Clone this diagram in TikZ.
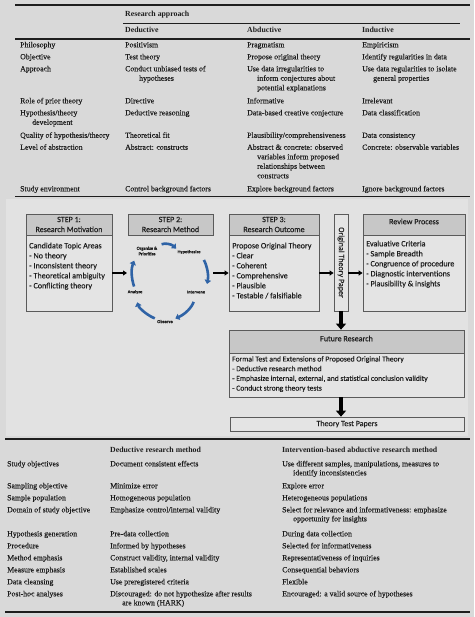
\documentclass[tikz,border=0pt]{standalone}
\usepackage{fontspec}
\setmainfont{Liberation Serif}
\newfontfamily\tabfont[FakeBold=0.3]{Liberation Serif}
\newfontfamily\carl[FakeBold=0.2]{Carlito}
\usetikzlibrary{arrows.meta}
\definecolor{bgc}{HTML}{D9D9D9}
\definecolor{panelc}{HTML}{E2E2E2}
\definecolor{hdrc}{HTML}{C7C7C7}
\definecolor{bodyc}{HTML}{E4E4E4}
\definecolor{boxc}{HTML}{5A5A5A}
\definecolor{txt}{HTML}{1E1E1E}
\definecolor{cycblue}{HTML}{2F63A6}
\newcommand\tabcell[5][tab]{\node[#1] (#2) at (#3,#4) {#5};}
\begin{document}
\begin{tikzpicture}[x=1pt,y=-1pt,
  tab/.style={anchor=base west, inner sep=0pt, text=txt, font=\tabfont\fontsize{7.8}{9}\selectfont},
  tabh/.style={tab, font=\fontsize{7.8}{9}\selectfont\bfseries},
  btab/.style={tab, font=\tabfont\fontsize{7.8}{9}\selectfont},
  btabh/.style={tab, font=\fontsize{7.8}{9}\selectfont\bfseries},
  rulethick/.style={draw=txt, line width=1.1pt},
  rulethin/.style={draw=txt, line width=0.5pt},
  hdr/.style={draw=boxc, fill=hdrc, line width=0.7pt, inner sep=0pt, text=txt, align=center, font=\carl\fontsize{8}{10}\selectfont},
  bodybox/.style={draw=boxc, fill=bodyc, line width=0.7pt, inner sep=0pt},
  flowtxt/.style={anchor=north west, inner sep=0pt, text=txt, align=left, font=\carl\fontsize{8.1}{10}\selectfont},
  flowlbl/.style={inner sep=0pt, text=txt, font=\carl\fontsize{8}{10}\selectfont},
  cyclbl/.style={inner sep=0.5pt, text=txt, align=center, font=\carl\bfseries\fontsize{4.5}{5.5}\selectfont},
  cyc/.style={draw=cycblue, line width=2.6pt, -{Triangle[width=6.5pt,length=4pt]}},
  sarrow/.style={draw=black, line width=1.3pt, -{Triangle[width=5pt,length=4pt]}},
  barrow/.style={draw=black, line width=3.5pt, -{Triangle[width=10pt,length=6pt]}}
]
\useasboundingbox (0,0) rectangle (474,617);
\fill[bgc] (0,0) rectangle (474,617);

% ---------------- top table ----------------
\draw[rulethick] (15,5) -- (470,5);
\tabcell[tabh]{ra}{125}{16.5}{Research approach}
\draw[rulethin] (123,23) -- (460,23);
\tabcell[tabh]{hded}{125}{32.5}{Deductive}
\tabcell[tabh]{habd}{247}{32.5}{Abductive}
\tabcell[tabh]{hind}{362}{32.5}{Inductive}
\draw[rulethick] (15,39) -- (470,39);

\tabcell{a1}{20}{47.3}{Philosophy}
\tabcell{a2}{125}{47.3}{Positivism}
\tabcell{a3}{247}{47.3}{Pragmatism}
\tabcell{a4}{362}{47.3}{Empiricism}

\tabcell{b1}{20}{59.3}{Objective}
\tabcell{b2}{125}{59.3}{Test theory}
\tabcell{b3}{247}{59.3}{Propose original theory}
\tabcell{b4}{362}{59.3}{Identify regularities in data}

\tabcell{c1}{20}{71.3}{Approach}
\tabcell{c2}{125}{71.3}{Conduct unbiased tests of}
\tabcell{c2b}{139}{80.8}{hypotheses}
\tabcell{c3}{247}{71.3}{Use data irregularities to}
\tabcell{c3b}{257}{80.8}{inform conjectures about}
\tabcell{c3c}{257}{90.3}{potential explanations}
\tabcell{c4}{362}{71.3}{Use data regularities to isolate}
\tabcell{c4b}{373}{80.8}{general properties}

\tabcell{d1}{20}{103.3}{Role of prior theory}
\tabcell{d2}{125}{103.3}{Directive}
\tabcell{d3}{247}{103.3}{Informative}
\tabcell{d4}{362}{103.3}{Irrelevant}

\tabcell{e1}{20}{115.3}{Hypothesis/theory}
\tabcell{e1b}{32}{124.8}{development}
\tabcell{e2}{125}{115.3}{Deductive reasoning}
\tabcell{e3}{247}{115.3}{Data-based creative conjecture}
\tabcell{e4}{362}{115.3}{Data classification}

\tabcell{f1}{20}{137.8}{Quality of hypothesis/theory}
\tabcell{f2}{125}{137.8}{Theoretical fit}
\tabcell{f3}{247}{137.8}{Plausibility/comprehensiveness}
\tabcell{f4}{362}{137.8}{Data consistency}

\tabcell{g1}{20}{149.8}{Level of abstraction}
\tabcell{g2}{125}{149.8}{Abstract: constructs}
\tabcell{g3}{247}{149.8}{Abstract \& concrete: observed}
\tabcell{g3b}{257}{159.3}{variables inform proposed}
\tabcell{g3c}{257}{168.8}{relationships between}
\tabcell{g3d}{257}{178.3}{constructs}
\tabcell{g4}{362}{149.8}{Concrete: observable variables}

\tabcell{h1}{20}{191.3}{Study environment}
\tabcell{h2}{125}{191.3}{Control background factors}
\tabcell{h3}{247}{191.3}{Explore background factors}
\tabcell{h4}{362}{191.3}{Ignore background factors}
\draw[rulethick] (15,196.5) -- (470,196.5);

% ---------------- middle panel ----------------
\fill[panelc] (6,199) rectangle (468,436);

% Step 1
\node[hdr, minimum width=86pt, minimum height=21pt] (s1h) at (69,224.5) {STEP 1:\\Research Motivation};
\node[bodybox, minimum width=86pt, minimum height=76pt] (s1b) at (69,273) {};
\node[flowtxt] (s1t) at (29,242.5) {Candidate Topic Areas\\- No theory\\- Inconsistent theory\\- Theoretical ambiguity\\- Conflicting theory};

% Step 2
\node[hdr, minimum width=85pt, minimum height=21pt] (s2h) at (170.5,224.5) {STEP 2:\\Research Method};
\node[cyclbl] (org) at (147,251) {Organize \&\\Prioritize};
\node[cyclbl] (hyp) at (189,252) {Hypothesize};
\node[cyclbl] (int) at (196,292) {Intervene};
\node[cyclbl] (obs) at (165,321.5) {Observe};
\node[cyclbl] (ana) at (135,292) {Analyze};
\draw[cyc, shorten <=4pt, shorten >=1pt] (org.north east) to[bend left=35] (hyp.north west);
\draw[cyc, shorten <=6pt, shorten >=6pt] (hyp.south east) to[bend left=20] (int.north east);
\draw[cyc, shorten <=8pt, shorten >=2pt] (int.south) to[bend left=25] (obs.north east);
\draw[cyc, shorten <=2pt, shorten >=8pt] (obs.north west) to[bend left=25] (ana.south);
\draw[cyc, shorten <=3pt, shorten >=5pt] (ana.north) to[bend left=20] (org.south west);
\coordinate (c2in) at (127,273);
\coordinate (c2out) at (213,273);

% Step 3
\node[hdr, minimum width=90pt, minimum height=21pt] (s3h) at (274,224.5) {STEP 3:\\Research Outcome};
\node[bodybox, minimum width=90pt, minimum height=76pt] (s3b) at (274,273) {};
\node[flowtxt] (s3t) at (232,242.5) {Propose Original Theory\\- Clear\\- Coherent\\- Comprehensive\\- Plausible\\- Testable / falsifiable};

% Original Theory Paper strip
\node[bodybox, minimum width=14pt, minimum height=97pt] (strip) at (341,262.5) {};
\node[flowlbl, rotate=-90] (stript) at (strip.center) {Original Theory Paper};

% Review process
\node[hdr, minimum width=102pt, minimum height=21pt] (rvh) at (414,224.5) {};
\node[flowlbl] (rvl) at (414,221.5) {Review Process};
\node[bodybox, minimum width=102pt, minimum height=76pt] (rvb) at (414,273) {};
\node[flowtxt] (rvt) at (366,240.5) {Evaluative Criteria\\- Sample Breadth\\- Congruence of procedure\\- Diagnostic interventions\\- Plausibility \& insights};

% Future research
\node[hdr, minimum width=235pt, minimum height=23pt] (frh) at (346.5,341.5) {};
\node[flowlbl] (frl) at (346.5,338.5) {Future Research};
\node[bodybox, minimum width=235pt, minimum height=44pt] (frb) at (346.5,375) {};
\node[flowtxt, font=\carl\fontsize{7.6}{9.7}\selectfont] (frt) at (232,356) {Formal Test and Extensions of Proposed Original Theory\\- Deductive research method\\- Emphasize internal, external, and statistical conclusion validity\\- Conduct strong theory tests};

% Theory test papers
\node[bodybox, minimum width=234pt, minimum height=14pt] (ttp) at (347,424) {};
\node[flowlbl] (ttpl) at (ttp.center) {Theory Test Papers};

% arrows
\draw[sarrow] (s1b.east) -- (c2in);
\draw[sarrow] (c2out) -- (s3b.west);
\draw[sarrow] (s3b.east) -- (s3b.east -| strip.west);
\draw[sarrow] (strip.east |- rvb.west) -- (rvb.west);
\draw[barrow] (strip.south) -- (strip.south |- frh.north);
\draw[barrow] (frb.south -| strip.south) -- (ttp.north -| strip.south);

% ---------------- bottom table ----------------
\draw[rulethick] (5,439) -- (470,439);
\tabcell[btabh]{bh2}{110}{452.3}{Deductive research method}
\tabcell[btabh]{bh3}{282}{452.3}{Intervention-based abductive research method}

\tabcell[btab]{m1}{7}{466.3}{Study objectives}
\tabcell[btab]{m2}{110}{466.3}{Document consistent effects}
\tabcell[btab]{m3}{282}{466.3}{Use different samples, manipulations, measures to}
\tabcell[btab]{m3b}{293}{475.3}{identify inconsistencies}

\tabcell[btab]{n1}{7}{488.3}{Sampling objective}
\tabcell[btab]{n2}{110}{488.3}{Minimize error}
\tabcell[btab]{n3}{282}{488.3}{Explore error}

\tabcell[btab]{o1}{7}{500.3}{Sample population}
\tabcell[btab]{o2}{110}{500.3}{Homogeneous population}
\tabcell[btab]{o3}{282}{500.3}{Heterogeneous populations}

\tabcell[btab]{p1}{7}{512.3}{Domain of study objective}
\tabcell[btab]{p2}{110}{512.3}{Emphasize control/internal validity}
\tabcell[btab]{p3}{282}{512.3}{Select for relevance and informativeness: emphasize}
\tabcell[btab]{p3b}{293}{521.3}{opportunity for insights}

\tabcell[btab]{q1}{7}{536.3}{Hypothesis generation}
\tabcell[btab]{q2}{110}{536.3}{Pre-data collection}
\tabcell[btab]{q3}{282}{536.3}{During data collection}

\tabcell[btab]{r1}{7}{548.3}{Procedure}
\tabcell[btab]{r2}{110}{548.3}{Informed by hypotheses}
\tabcell[btab]{r3}{282}{548.3}{Selected for informativeness}

\tabcell[btab]{s1}{7}{560.3}{Method emphasis}
\tabcell[btab]{s2}{110}{560.3}{Construct validity, internal validity}
\tabcell[btab]{s3}{282}{560.3}{Representativeness of inquiries}

\tabcell[btab]{u1}{7}{572.3}{Measure emphasis}
\tabcell[btab]{u2}{110}{572.3}{Established scales}
\tabcell[btab]{u3}{282}{572.3}{Consequential behaviors}

\tabcell[btab]{v1}{7}{584.3}{Data cleansing}
\tabcell[btab]{v2}{110}{584.3}{Use preregistered criteria}
\tabcell[btab]{v3}{282}{584.3}{Flexible}

\tabcell[btab]{w1}{7}{596.3}{Post-hoc analyses}
\tabcell[btab]{w2}{110}{596.3}{Discouraged: do not hypothesize after results}
\tabcell[btab]{w2b}{122}{605.3}{are known (HARK)}
\tabcell[btab]{w3}{282}{596.3}{Encouraged: a valid source of hypotheses}
\draw[rulethick] (5,612) -- (470,612);
\end{tikzpicture}
\end{document}
